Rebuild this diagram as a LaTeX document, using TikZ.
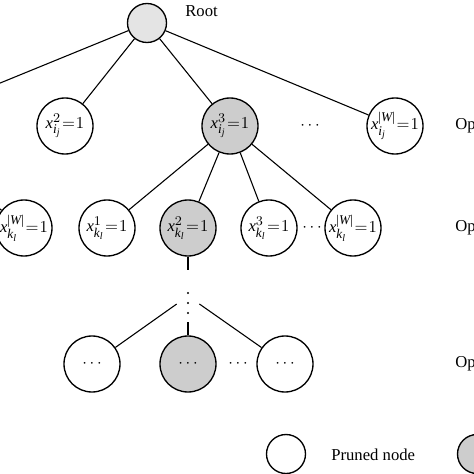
\documentclass[tikz,border=0pt]{standalone}
\usepackage{fontspec}
\setmainfont{Liberation Serif}
\usepackage[italic]{mathastext}
\definecolor{rootgray}{HTML}{E4E4E4}
\definecolor{keptgray}{HTML}{CDCDCD}
\tikzset{
	leaf/.style={circle,draw,line width=0.8pt,minimum size=33.6pt,inner sep=0pt,fill=white},
	small/.style={minimum size=23.4pt},
	kept/.style={fill=keptgray},
	oplbl/.style={anchor=west,inner sep=0pt},
	link/.style={line width=0.65pt},
	gap/.style={rectangle,minimum width=13.2pt,minimum height=31.2pt,inner sep=0pt}
}
\newcommand{\xeq}[2]{$x^{#1}_{#2}\mkern1mu{=}\mkern1mu1$}
\begin{document}
\begin{tikzpicture}[x=0.6pt,y=-0.6pt]
				\useasboundingbox (0,0) rectangle (474,474);
				\clip (0,0) rectangle (474,474);
				%\draw [help lines] (0,0) grid (474,474);
				% root
				\node[leaf,small,fill=rootgray] (root) at (147,23) {};
				\node[anchor=west,inner sep=0pt] (rootlbl) at (185,11) {Root};
				% first level
				\coordinate (xa) at (-105,126);
				\node[leaf] (xb) at (65,126) {\xeq{2}{i_j}};
				\node[leaf,kept] (xc) at (230,126) {\xeq{3}{i_j}};
				\node (dotsa) at (310,126) {$\cdots$};
				\node[leaf] (xw) at (395,126) {\xeq{|W|}{i_j}};
				\node[oplbl] (opa) at (455,126) {Op};
				% second level
				\node[leaf] (yw0) at (24,228) {\xeq{|W|}{k_l}};
				\node[leaf] (ya) at (107,228) {\xeq{1}{k_l}};
				\node[leaf,kept] (yb) at (188,228) {\xeq{2}{k_l}};
				\node[leaf] (yc) at (269,228) {\xeq{3}{k_l}};
				\node (dotsb) at (312,228) {$\cdots$};
				\node[leaf] (yw) at (353,228) {\xeq{|W|}{k_l}};
				\node[oplbl] (opb) at (455,228) {Op};
				% skipped levels
				\node[gap] (vd) at (188,296) {};
				\fill (188,293) circle (0.7pt);
				\fill (188,303) circle (0.7pt);
				\fill (188,313) circle (0.7pt);
				% last level
				\node[leaf] (za) at (92,364) {$\cdots$};
				\node[leaf,kept] (zb) at (188,364) {$\cdots$};
				\node (dotsc) at (238,364) {$\cdots$};
				\node[leaf] (zc) at (285,364) {$\cdots$};
				\node[oplbl] (opc) at (455,364) {Op};
				% legend
				\node[leaf,small] (legpruned) at (286,454) {};
				\node[anchor=west,inner sep=0pt] (legtext) at (331,455) {Pruned node};
				\node[leaf,small,kept] (legkept) at (477,454) {};
				% links
				\draw[link] (root) -- (xa);
				\draw[link] (root) -- (xb);
				\draw[link] (root) -- (xc);
				\draw[link] (root) -- (xw);
				\draw[link] (xa) -- (yw0);
				\draw[link] (xc) -- (ya);
				\draw[link] (xc) -- (yb);
				\draw[link] (xc) -- (yc);
				\draw[link] (xc) -- (yw);
				\draw[link] (yb) -- (vd);
				\draw[link] (vd) -- (za);
				\draw[link] (vd) -- (zb);
				\draw[link] (vd) -- (zc);
\end{tikzpicture}
\end{document}
